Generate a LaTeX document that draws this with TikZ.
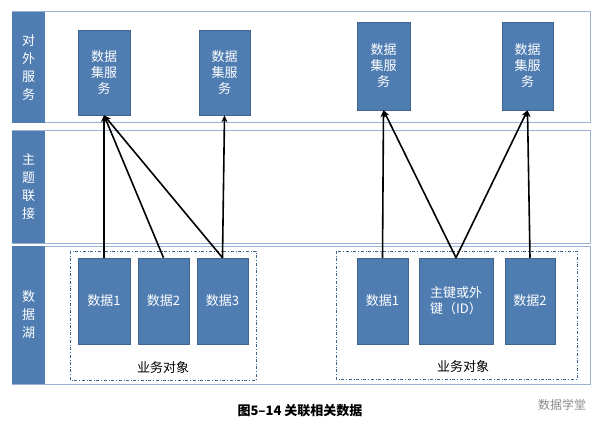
\documentclass[tikz,border=0pt]{standalone}
\usepackage{fontspec}
\setmainfont{Noto Sans CJK SC}
\usetikzlibrary{arrows.meta}
\definecolor{bx}{HTML}{4F7DB1}
\definecolor{ln}{HTML}{9BB3D3}
\begin{document}
\begin{tikzpicture}[x=1pt,y=-1pt,
 blk/.style={fill=bx,draw=bx!80!black,line width=0.5pt,text=white,font=\fontsize{13}{16}\selectfont,align=center,inner sep=0pt},
 lab/.style={fill=bx,text=white,font=\fontsize{13}{18}\selectfont,align=center,inner sep=0pt},
 band/.style={draw=ln,line width=1pt},
 grp/.style={draw=bx!80!black,dash dot,line width=0.9pt},
 arr/.style={-{Stealth[length=7pt,width=6pt]},line width=1.6pt}]
\useasboundingbox (0,0) rectangle (600,433);
% bands
\draw[band] (12,12) rectangle (590,123);
\draw[band] (12,131) rectangle (590,243);
\draw[band] (12,246) rectangle (590,384);
\node[lab,minimum width=33,minimum height=111] (l1) at (28.5,67.5) {对\\外\\服\\务};
\node[lab,minimum width=33,minimum height=112] (l2) at (28.5,187) {主\\题\\联\\接};
\node[lab,minimum width=33,minimum height=138] (l3) at (28.5,315) {数\\据\\湖};
% dashed groups
\draw[grp] (70,251) rectangle (256,380);
\draw[grp] (336,251) rectangle (577,379);
\node[font=\fontsize{13}{15}\selectfont] (g1) at (163,368) {业务对象};
\node[font=\fontsize{13}{15}\selectfont] (g2) at (463,367) {业务对象};
% top boxes
\node[blk,minimum width=52,minimum height=85] (a1) at (104,72.5) {数据\\集服\\务};
\node[blk,minimum width=51,minimum height=85] (a2) at (224.5,72.5) {数据\\集服\\务};
\node[blk,minimum width=53,minimum height=88] (a3) at (383.5,66) {数据\\集服\\务};
\node[blk,minimum width=51,minimum height=88] (a4) at (527.5,66) {数据\\集服\\务};
% bottom boxes
\node[blk,minimum width=52,minimum height=86] (d1) at (104,301) {数据1};
\node[blk,minimum width=51,minimum height=86] (d2) at (163.5,301) {数据2};
\node[blk,minimum width=51,minimum height=86] (d3) at (222.5,301) {数据3};
\node[blk,minimum width=51,minimum height=86] (r1) at (382.5,301) {数据1};
\node[blk,minimum width=74,minimum height=86] (k) at (456,301) {主键或外\\键（ID）};
\node[blk,minimum width=50,minimum height=86] (r2) at (530,301) {数据2};
% arrows
\draw[arr] (d1.north) -- (a1.south);
\draw[arr] (d2.north) -- (a1.south);
\draw[arr] (d3.north) -- (a1.south);
\draw[arr] (d3.north) -- (a2.south);
\draw[arr] (r1.north) -- (a3.south);
\draw[arr] (k.north) -- (a3.south);
\draw[arr] (k.north) -- (a4.south);
\draw[arr] (r2.north) -- (a4.south);
% caption
\node[font=\fontsize{13}{15}\bfseries\selectfont] (cap) at (300,411) {图5–14 关联相关数据};
\node[text=black!45,font=\fontsize{12}{14}\selectfont] (wm) at (562,405) {数据学堂};
\end{tikzpicture}
\end{document}
